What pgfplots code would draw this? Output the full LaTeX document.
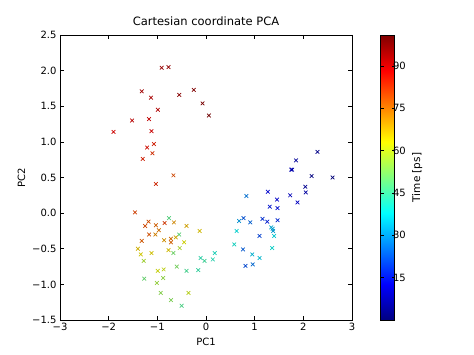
\documentclass[border=0pt]{standalone}
\usepackage{fontspec}
\setmainfont{DejaVu Sans}
\usepackage{pgfplots}
\usepackage{pgfplotstable}
\pgfplotsset{compat=1.18}
\pgfplotstableread{
x y t
2.29 0.86 4
1.85 0.74 6
1.77 0.61 8
1.75 0.61 9
2.17 0.52 3
2.60 0.50 2
2.04 0.37 5
2.05 0.29 7
1.73 0.25 10
1.88 0.15 11
1.27 0.30 13
0.83 0.24 26
1.46 0.19 12
1.31 0.09 15
1.47 0.07 14
0.77 -0.07 22
0.68 -0.11 30
0.91 -0.13 24
1.16 -0.08 18
1.26 -0.12 16
1.47 -0.10 17
1.34 -0.20 33
1.37 -0.22 32
1.38 -0.25 31
1.40 -0.32 37
1.10 -0.32 20
0.63 -0.25 38
0.58 -0.44 40
0.76 -0.51 23
1.36 -0.49 39
0.95 -0.58 34
1.10 -0.63 35
0.81 -0.74 21
0.96 -0.72 25
0.18 -0.56 41
0.14 -0.65 42
-0.03 -0.67 45
-0.11 -0.63 43
-0.16 -0.80 44
-0.40 -0.81 46
-0.50 -1.30 47
-0.55 -0.30 49
-0.76 -0.07 48
-0.60 -0.75 52
-0.67 -0.56 51
-0.72 -1.22 53
-0.93 -1.12 54
-1.01 -0.98 56
-0.88 -0.91 55
-1.27 -0.92 50
-1.28 -0.67 57
-0.36 -1.12 60
-0.87 -0.79 61
-0.99 -0.81 62
-0.54 -0.49 58
-0.77 -0.52 66
-1.12 -0.56 65
-1.34 -0.58 64
-1.40 -0.50 67
-0.45 -0.41 63
-0.62 -0.34 68
-0.40 -0.18 69
-0.13 -0.25 66
-0.86 -0.38 71
-0.66 -0.13 72
-1.04 -0.30 73
-0.72 -0.36 76
-0.72 -0.41 77
-1.32 -0.39 78
-1.17 -0.30 79
-0.97 -0.24 75
-1.03 -0.17 77
-1.25 -0.18 80
-1.18 -0.12 79
-0.85 -0.14 82
-1.46 0.01 81
-0.67 0.53 80
-1.03 0.41 84
-1.30 0.76 85
-1.10 0.84 83
-1.21 0.92 87
-1.07 0.97 85
-1.12 1.15 89
-1.90 1.14 88
-1.17 1.32 90
-1.52 1.30 91
-0.99 1.45 92
-1.13 1.62 93
-1.32 1.71 94
-0.91 2.04 95
-0.77 2.05 96
-0.55 1.66 97
-0.25 1.73 98
-0.07 1.54 99
0.06 1.37 100
}\pcadata
\begin{document}
\begin{tikzpicture}[x=1pt,y=1pt]
\useasboundingbox (0,0) rectangle (474,355);
\begin{axis}[
  at={(60pt,35pt)}, anchor=south west,
  scale only axis, width=292pt, height=285pt,
  xmin=-3, xmax=3, ymin=-1.5, ymax=2.5,
  xtick={-3,-2,-1,0,1,2,3},
  xticklabels={−3,−2,−1,0,1,2,3},
  ytick={-1.5,-1,-0.5,0,0.5,1,1.5,2,2.5},
  yticklabels={−1.5,−1.0,−0.5,0.0,0.5,1.0,1.5,2.0,2.5},
  tick align=inside, tick pos=both,
  major tick length=4pt,
  tick style={black, line width=0.6pt},
  axis line style={line width=0.8pt},
  tick label style={font=\fontsize{10}{12}\selectfont},
  label style={font=\fontsize{10}{12}\selectfont},
  title={Cartesian coordinate PCA},
  title style={font=\fontsize{11.5}{13}\selectfont},
  xlabel={PC1}, ylabel={PC2},
  colormap/jet,
  point meta min=0, point meta max=101,
  colorbar,
  colorbar style={
    at={(parent axis.north east)}, anchor=north west, xshift=20pt,
    scale only axis, width=14pt, height=285pt,
    font=\fontsize{10}{12}\selectfont,
    ytick={15,30,45,60,75,90},
    yticklabels={15,30,45,60,75,90},
    yticklabel pos=right,
    tick align=inside,
    major tick length=3pt,
    tick style={black, line width=0.6pt},
    axis line style={line width=0.8pt},
    yticklabel style={font=\fontsize{10}{12}\selectfont, xshift=-5pt},
    ylabel={Time [ps]},
    every axis y label/.style={at={(rel axis cs:1,0.5)}, xshift=14pt,
      rotate=90, anchor=north, font=\fontsize{10.5}{12}\selectfont},
  },
]
\addplot[scatter, only marks, mark=x, mark size=2.6pt,
  mark options={line width=0.7pt}, scatter src=explicit]
  table[x=x, y=y, meta=t] {\pcadata};
\end{axis}
\end{tikzpicture}
\end{document}
